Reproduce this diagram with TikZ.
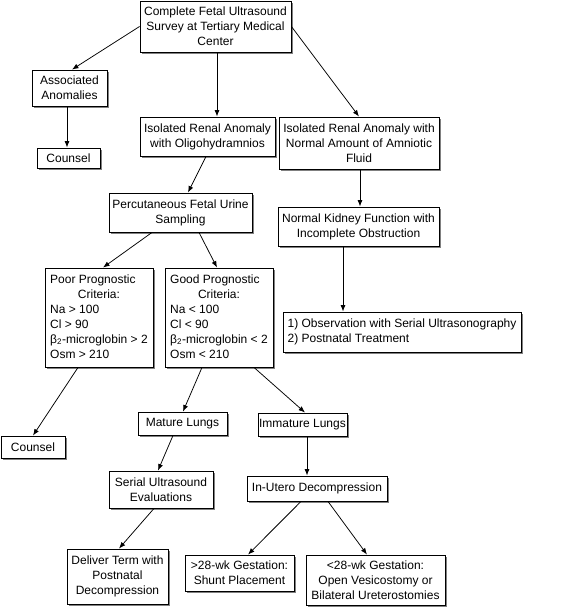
\documentclass[tikz,border=0pt]{standalone}
\usepackage{fontspec}
\setmainfont{Liberation Sans}
\usetikzlibrary{arrows.meta,shadows,calc}
\tikzset{
  box/.style={draw=black, line width=0.9pt, fill=white, inner sep=0pt, align=center,
    font=\fontsize{12}{15}\selectfont,
    drop shadow={shadow xshift=1.8pt, shadow yshift=-1.8pt, fill=black!50, opacity=1}},
  arr/.style={line width=0.75pt, -{Latex[length=6.5pt,width=5pt]}}
}
\newcommand{\bx}[6]{\node[box, minimum width=#4pt, minimum height=#5pt] (#1) at (#2,#3) {#6};}
\begin{document}
\begin{tikzpicture}[x=1pt,y=-1pt]
\useasboundingbox[fill=white] (0,0) rectangle (566,609);
\bx{top}{215.5}{26.5}{151}{51}{Complete Fetal Ultrasound\\Survey at Tertiary Medical\\Center}
\bx{assoc}{69.5}{88}{75}{36}{Associated\\Anomalies}
\bx{counselA}{68.5}{158}{63}{20}{Counsel}
\bx{oligo}{207.5}{136.5}{135}{39}{Isolated Renal Anomaly\\with Oligohydramnios}
\bx{normal}{359}{143}{160}{52}{Isolated Renal Anomaly with\\Normal Amount of Amniotic\\Fluid}
\bx{percut}{180.5}{212.5}{143}{39}{Percutaneous Fetal Urine\\Sampling}
\bx{nk}{358.5}{226.5}{161}{39}{Normal Kidney Function with\\Incomplete Obstruction}
\bx{poor}{99}{317.5}{108}{99}{\begin{tabular}{@{}l@{}}Poor Prognostic\\\multicolumn{1}{@{}c@{}}{Criteria:}\\Na {>} 100\\Cl {>} 90\\β\textsubscript{2}-microglobin {>} 2\\Osm {>} 210\end{tabular}}
\bx{good}{219}{317.5}{108}{99}{\begin{tabular}{@{}l@{}}Good Prognostic\\\multicolumn{1}{@{}c@{}}{Criteria:}\\Na {<} 100\\Cl {<} 90\\β\textsubscript{2}-microglobin {<} 2\\Osm {<} 210\end{tabular}}
\bx{obs}{402}{332}{238}{40}{\begin{tabular}{@{}l@{}}1) Observation with Serial Ultrasonography\\2) Postnatal Treatment\end{tabular}}
\bx{mature}{182.5}{423.5}{89}{23}{Mature Lungs}
\bx{immature}{302.5}{424.5}{89}{23}{Immature Lungs}
\bx{counselB}{33}{447}{64}{22}{Counsel}
\bx{serial}{161}{489.5}{104}{37}{Serial Ultrasound\\Evaluations}
\bx{inutero}{317}{488.5}{140}{25}{In-Utero Decompression}
\bx{deliver}{117.5}{576.5}{101}{55}{Deliver Term with\\Postnatal\\Decompression}
\bx{gt}{239.5}{573}{109}{36}{>28-wk Gestation:\\Shunt Placement}
\bx{lt}{375.5}{580}{139}{50}{<28-wk Gestation:\\Open Vesicostomy or\\Bilateral Ureterostomies}
% connectors
\draw[arr] (top.west) -- ([xshift=2.5pt]assoc.north);
\draw[arr] ([xshift=1.5pt]top.south) -- ([xshift=1.5pt]top.south |- oligo.north);
\draw[arr] (top.east) -- (normal.north);
\draw[arr] ([xshift=-2.5pt]assoc.south) -- ([xshift=-2.5pt]assoc.south |- counselA.north);
\draw[arr] ([xshift=-1.5pt]oligo.south) -- ([xshift=7.5pt]percut.north);
\draw[arr] ([xshift=1pt]normal.south) -- ([xshift=1pt]normal.south |- nk.north);
\draw[arr] ([xshift=-15.5pt]nk.south) -- ([xshift=-15.5pt]nk.south |- obs.north);
\draw[arr] ([xshift=-28.5pt]percut.south) -- ([xshift=4pt]poor.north);
\draw[arr] ([xshift=18.5pt]percut.south) -- ([xshift=-2pt]good.north);
\draw[arr] ([xshift=-21pt]poor.south) -- (counselB.north);
\draw[arr] ([xshift=-17pt]good.south) -- ([xshift=0.5pt]mature.north);
\draw[arr] ([xshift=35pt]good.south) -- ([xshift=2.5pt]immature.north);
\draw[arr] ([xshift=-9.5pt]mature.south) -- ([xshift=-3pt]serial.north);
\draw[arr] ([xshift=4.5pt]immature.south) -- ([xshift=4.5pt]immature.south |- inutero.north);
\draw[arr] ([xshift=-7pt]serial.south) -- ([xshift=1.5pt]deliver.north);
\draw[arr] ([xshift=-16pt]inutero.south) -- ([xshift=8.5pt]gt.north);
\draw[arr] ([xshift=11pt]inutero.south) -- ([xshift=-8.5pt]lt.north);
\end{tikzpicture}
\end{document}
